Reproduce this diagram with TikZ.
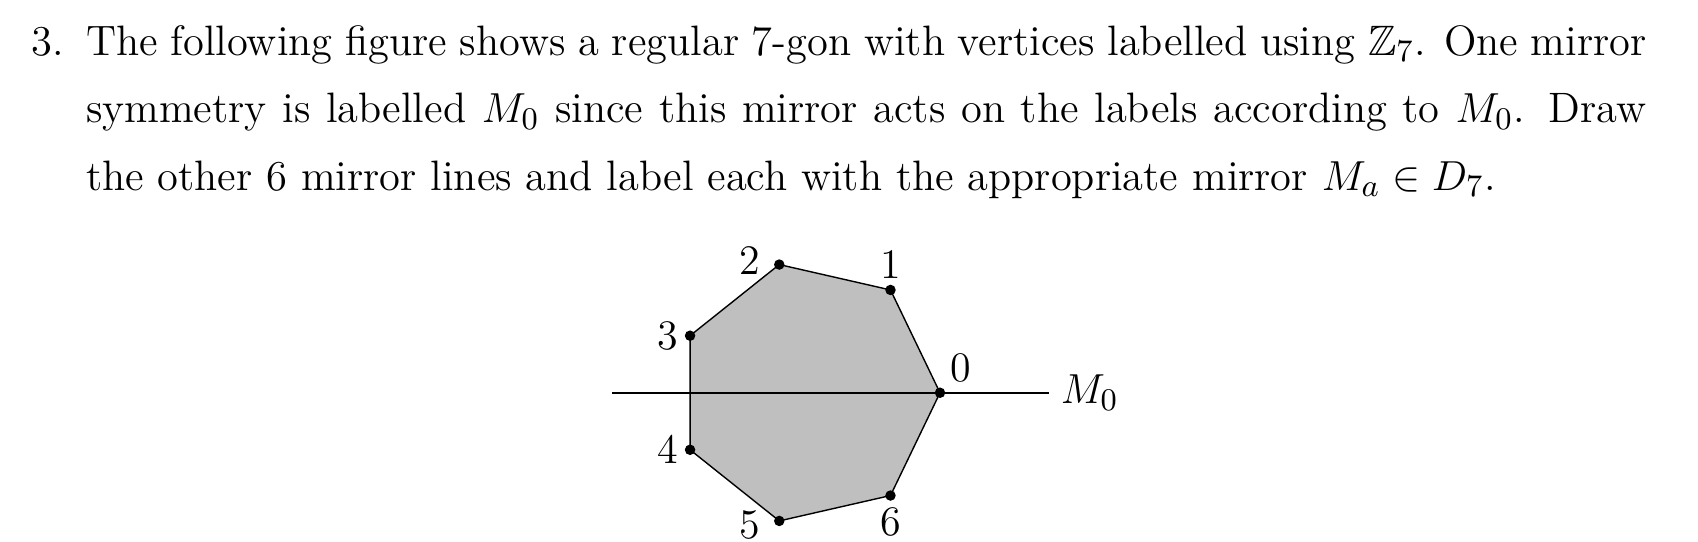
\documentclass[tikz,border=0pt]{standalone}
\usepackage{amsmath}
\usepackage{amssymb}
\usepackage{tikz}

\tikzset{
	vdot/.style={circle,fill=black,inner sep=0pt,minimum size=3pt},
	mirror/.style={semithick},
	every label/.style={inner sep=1.5pt},
}

\begin{document}
\begin{tikzpicture}[font=\fontsize{12}{14.4}\selectfont]
	\useasboundingbox (0,0) rectangle (17.047,-5.441);
	\node[anchor=base east,inner sep=0pt,font=\fontsize{12.15}{19.2}\selectfont] (num) at (0.647,-0.559) {3.};
	\node[anchor=base west,inner sep=0pt,text width=15.667cm,align=justify,font=\fontsize{12.15}{19.2}\selectfont] (task) at (0.857,-0.559)
		{The following figure shows a regular 7-gon with vertices labelled using $\mathbb{Z}_7$. One mirror\linebreak
		symmetry is labelled $M_0$ since this mirror acts on the labels according to $M_0$. Draw\linebreak
		the other 6 mirror lines and label each with the appropriate mirror $M_a\in D_7$.};
	\begin{scope}[shift={(8.117,-3.943)}]
		\foreach \k in {0,...,6}
			\coordinate (p\k) at ({\k*360/7}:1.32);
		\filldraw[fill=lightgray,thin] (p0) -- (p1) -- (p2) -- (p3) -- (p4) -- (p5) -- (p6) -- cycle;
		\coordinate (mleft) at (-1.97,0);
		\coordinate (mright) at (2.41,0);
		\draw[mirror] (mleft) -- (mright);
		\node[right,font=\fontsize{12.5}{15}\selectfont] (mlabel) at (mright) {$M_0$};
		\node[vdot,label=above right:0] (v0) at (p0) {};
		\node[vdot,label=above:1] (v1) at (p1) {};
		\node[vdot,label={[xshift=-2pt,yshift=1.2pt]left:2}] (v2) at (p2) {};
		\node[vdot,label=left:3] (v3) at (p3) {};
		\node[vdot,label=left:4] (v4) at (p4) {};
		\node[vdot,label={[xshift=-2pt,yshift=-1.2pt]left:5}] (v5) at (p5) {};
		\node[vdot,label=below:6] (v6) at (p6) {};
	\end{scope}
\end{tikzpicture}
\end{document}
